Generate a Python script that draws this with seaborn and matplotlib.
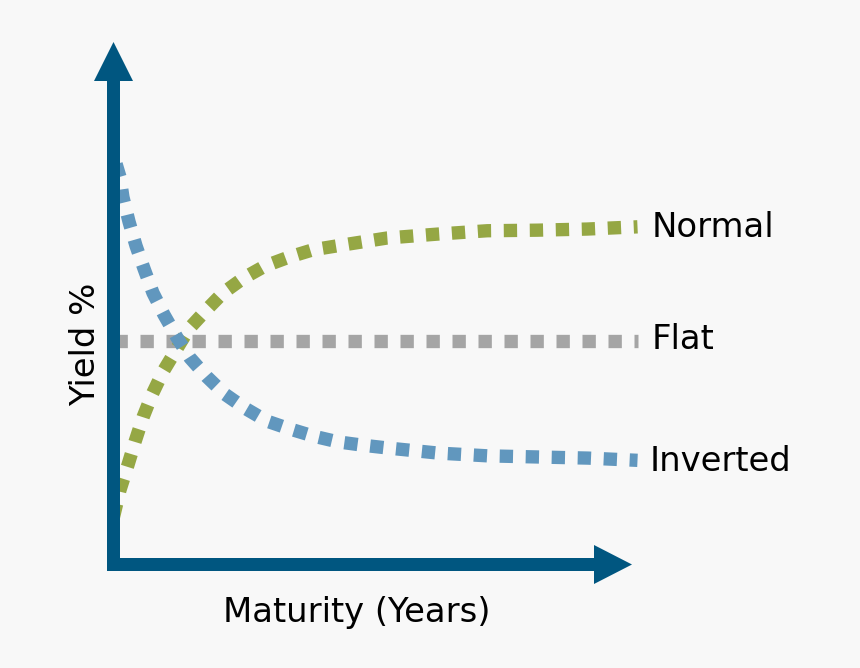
import numpy as np
import pandas as pd
import matplotlib
matplotlib.use("Agg")
import matplotlib.pyplot as plt
from matplotlib.patches import FancyArrow
import seaborn as sns

# Eğri değerleri (vade yıl, getiri %) - resimden okunan yaklaşık değerler
normal_years = [0.0, 0.37, 0.83, 1.23, 1.69, 2.20, 2.83, 3.58, 4.32, 5.30, 6.27,
                7.47, 8.67, 10.05, 11.42, 12.80, 14.23, 15.66, 18.55, 21.40,
                24.25, 27.10, 30.0]
normal_yield = [0.85, 1.33, 1.78, 2.19, 2.63, 3.03, 3.44, 3.83, 4.21, 4.54, 4.85,
                5.12, 5.33, 5.49, 5.62, 5.69, 5.76, 5.83, 5.90, 5.96,
                5.97, 5.99, 6.03]

inverted_years = [0.15, 0.37, 0.54, 0.89, 1.29, 1.75, 2.26, 2.89, 3.64, 4.38, 5.35,
                  6.38, 7.53, 8.79, 10.10, 11.48, 12.85, 14.28, 15.71, 18.57,
                  21.44, 24.30, 27.17, 30.0]
inverted_yield = [7.15, 6.92, 6.56, 6.12, 5.69, 5.28, 4.85, 4.46, 4.05, 3.69, 3.35,
                  3.04, 2.79, 2.56, 2.42, 2.29, 2.19, 2.13, 2.08, 1.99,
                  1.94, 1.92, 1.90, 1.86]

flat_years = [0.0, 30.0]
flat_yield = [4.0, 4.0]

curve_labels = ["Normal", "Flat", "Inverted"]
x_label = "Maturity (Years)"
y_label = "Yield %"

bg = "#f8f8f8"
axis_color = "#005680"
colors = {"Normal": "#95a744", "Flat": "#a5a5a5", "Inverted": "#6197be"}

W, H = 860, 668
sns.set_style("white")
plt.rcParams['font.family'] = ['DejaVu Sans']
plt.rcParams['text.color'] = 'black'

fig = plt.figure(figsize=(W / 100, H / 100), dpi=100, facecolor=bg)

# Veri eksenleri: x=0 -> 113.5 px, x=30 -> 637.5 px; y=0 -> 564.5 px, 1% = 56 px
px_x0, px_x1, px_y0, px_per_pct = 113.5, 637.5, 564.5, 56.0
ymax = 9.0
ax = fig.add_axes([px_x0 / W, (H - px_y0) / H, (px_x1 - px_x0) / W, ymax * px_per_pct / H])
ax.set_xlim(0, 30)
ax.set_ylim(0, ymax)
ax.axis("off")

df = pd.concat([
    pd.DataFrame({"years": normal_years, "yield": normal_yield, "curve": "Normal"}),
    pd.DataFrame({"years": flat_years, "yield": flat_yield, "curve": "Flat"}),
    pd.DataFrame({"years": inverted_years, "yield": inverted_yield, "curve": "Inverted"}),
])

for name in ["Flat", "Normal", "Inverted"]:
    sub = df[df["curve"] == name]
    sns.lineplot(data=sub, x="years", y="yield", ax=ax, color=colors[name],
                 linewidth=9.6, linestyle=(0, (1.0, 0.95)), sort=False,
                 legend=False, clip_on=False)

# Üst katman: piksel koordinatlı eksen (oklar ve yazılar)
ov = fig.add_axes([0, 0, 1, 1])
ov.set_xlim(0, W)
ov.set_ylim(H, 0)
ov.axis("off")
ov.patch.set_alpha(0)

ov.add_patch(FancyArrow(113.5, 571, 0, 42 - 571, width=13, head_width=39,
                        head_length=39, length_includes_head=True,
                        color=axis_color, lw=0))
ov.add_patch(FancyArrow(107, 564.5, 632 - 107, 0, width=13, head_width=39,
                        head_length=38, length_includes_head=True,
                        color=axis_color, lw=0))

fs = 24.4
ov.text(652, 237, curve_labels[0], fontsize=fs, ha="left", va="baseline", color="black")
ov.text(652, 349, curve_labels[1], fontsize=fs, ha="left", va="baseline", color="black")
ov.text(650, 471, curve_labels[2], fontsize=fs, ha="left", va="baseline", color="black")
ov.text(357, 622, x_label, fontsize=fs, ha="center", va="baseline", color="black")
ov.text(95, 344, y_label, fontsize=fs, ha="center", va="baseline", color="black",
        rotation=90, rotation_mode="anchor")

fig.savefig("out.png", dpi=100, facecolor=bg)
